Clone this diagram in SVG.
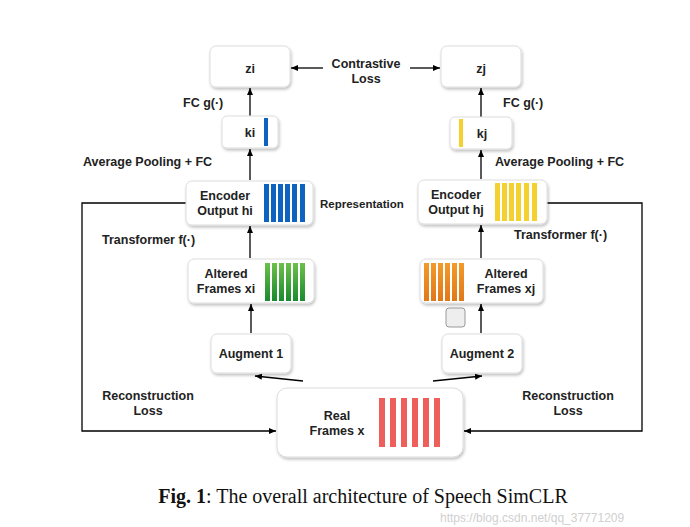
<svg xmlns="http://www.w3.org/2000/svg" width="690" height="527" viewBox="0 0 690 527">
<defs>
<filter id="sh" x="-10%" y="-10%" width="125%" height="135%"><feDropShadow dx="1" dy="2" stdDeviation="1.5" flood-color="#000" flood-opacity="0.25"/></filter>
<marker id="ar" markerWidth="8" markerHeight="8" refX="7" refY="4" orient="auto" markerUnits="userSpaceOnUse"><path d="M0,1 L7,4 L0,7 Z" fill="#000"/></marker>
<linearGradient id="gg" x1="0" y1="0" x2="0" y2="1"><stop offset="0" stop-color="#6cc04a"/><stop offset="1" stop-color="#1a8a2e"/></linearGradient>
<linearGradient id="og" x1="0" y1="0" x2="0" y2="1"><stop offset="0" stop-color="#f39a2a"/><stop offset="1" stop-color="#e0781a"/></linearGradient>
</defs>
<style>
.bx{fill:#fff;stroke:#ddd;stroke-width:1;filter:url(#sh)}
text{font-family:"Liberation Sans",Arial,sans-serif;font-size:12.5px;font-weight:bold;fill:#222}
.c{text-anchor:middle}
.ln{stroke:#000;stroke-width:1.3;fill:none}
.blue{fill:#0e63c0}.yel{fill:#f5d130}.red{fill:#ee5f5b}.grn{fill:url(#gg)}.org{fill:url(#og)}
</style>
<rect width="690" height="527" fill="#fff"/>
<g id="connectors">
<line class="ln" x1="250" y1="116" x2="250" y2="88" marker-end="url(#ar)"/>
<line class="ln" x1="481" y1="117" x2="481" y2="88" marker-end="url(#ar)"/>
<line class="ln" x1="250" y1="180" x2="250" y2="149" marker-end="url(#ar)"/>
<line class="ln" x1="481" y1="179" x2="481" y2="150" marker-end="url(#ar)"/>
<line class="ln" x1="250" y1="258" x2="250" y2="226" marker-end="url(#ar)"/>
<line class="ln" x1="481" y1="258" x2="481" y2="225" marker-end="url(#ar)"/>
<line class="ln" x1="251" y1="333" x2="251" y2="304" marker-end="url(#ar)"/>
<line class="ln" x1="481" y1="333" x2="481" y2="304" marker-end="url(#ar)"/>
<line class="ln" x1="303" y1="381" x2="255" y2="376" marker-end="url(#ar)"/>
<line class="ln" x1="433" y1="381" x2="482" y2="376" marker-end="url(#ar)"/>
<line class="ln" x1="323" y1="68" x2="291" y2="68" marker-end="url(#ar)"/>
<line class="ln" x1="410" y1="68" x2="440" y2="68" marker-end="url(#ar)"/>
<polyline class="ln" points="186,203 82,203 82,431 276,431" marker-end="url(#ar)"/>
<polyline class="ln" points="547,203 642,203 642,431 464,431" marker-end="url(#ar)"/>
</g>
<g id="zi"><rect class="bx" x="210" y="46" width="80" height="41" rx="6"/><text class="c" x="250" y="73">zi</text></g>
<g id="zj"><rect class="bx" x="441" y="46" width="80" height="41" rx="6"/><text class="c" x="481" y="73">zj</text></g>
<g id="ki"><rect class="bx" x="222" y="116" width="56" height="32" rx="5"/><text class="c" x="250" y="137">ki</text><rect class="blue" x="264" y="118" width="4" height="28"/></g>
<g id="kj"><rect class="bx" x="450" y="117" width="62" height="32" rx="5"/><text class="c" x="482" y="138">kj</text><rect class="yel" x="459" y="119" width="4" height="28"/></g>
<g id="hi"><rect class="bx" x="186" y="181" width="127" height="44" rx="6"/><text class="c" x="225" y="200">Encoder</text><text class="c" x="225" y="215">Output hi</text>
<g class="blue"><rect x="264" y="184" width="5" height="38"/><rect x="271" y="184" width="5" height="38"/><rect x="278" y="184" width="5" height="38"/><rect x="285" y="184" width="5" height="38"/><rect x="292" y="184" width="5" height="38"/><rect x="300" y="184" width="5" height="38"/></g></g>
<g id="hj"><rect class="bx" x="418" y="180" width="129" height="44" rx="6"/><text class="c" x="456" y="199">Encoder</text><text class="c" x="456" y="214">Output hj</text>
<g class="yel"><rect x="495" y="183" width="5" height="38"/><rect x="502" y="183" width="5" height="38"/><rect x="509" y="183" width="5" height="38"/><rect x="516" y="183" width="5" height="38"/><rect x="524" y="183" width="5" height="38"/><rect x="532" y="183" width="5" height="38"/></g></g>
<g id="xi"><rect class="bx" x="188" y="259" width="126" height="44" rx="6"/><text class="c" x="226" y="278">Altered</text><text class="c" x="226" y="293">Frames xi</text>
<g class="grn"><rect x="265" y="263" width="5" height="38"/><rect x="272" y="263" width="5" height="38"/><rect x="279" y="263" width="5" height="38"/><rect x="286" y="263" width="5" height="38"/><rect x="293" y="263" width="5" height="38"/><rect x="300" y="263" width="5" height="38"/></g></g>
<g id="xj"><rect class="bx" x="420" y="259" width="123" height="44" rx="6"/><text class="c" x="506" y="278">Altered</text><text class="c" x="506" y="293">Frames xj</text>
<g class="org"><rect x="424" y="263" width="5" height="38"/><rect x="431" y="263" width="5" height="38"/><rect x="438" y="263" width="5" height="38"/><rect x="445" y="263" width="5" height="38"/><rect x="452" y="263" width="5" height="38"/><rect x="459" y="263" width="5" height="38"/></g></g>
<rect x="446" y="308" width="19" height="19" rx="3" fill="#eee" stroke="#999"/>
<g id="aug1"><rect class="bx" x="211" y="334" width="80" height="39" rx="6"/><text class="c" x="251" y="358">Augment 1</text></g>
<g id="aug2"><rect class="bx" x="442" y="334" width="80" height="39" rx="6"/><text class="c" x="482" y="358">Augment 2</text></g>
<g id="real"><rect class="bx" x="277" y="388" width="186" height="69" rx="10"/><text class="c" x="337" y="420">Real</text><text class="c" x="337" y="435">Frames x</text>
<g class="red"><rect x="379" y="398" width="6" height="49"/><rect x="390" y="398" width="6" height="49"/><rect x="401" y="398" width="6" height="49"/><rect x="412" y="398" width="6" height="49"/><rect x="423" y="398" width="6" height="49"/><rect x="434" y="398" width="6" height="49"/></g></g>
<text class="c" x="366" y="68">Contrastive</text><text class="c" x="366" y="83">Loss</text>
<text x="183" y="107">FC g(·)</text><text x="503" y="107">FC g(·)</text>
<text x="83" y="166">Average Pooling + FC</text><text x="495" y="166">Average Pooling + FC</text>
<text x="102" y="244">Transformer f(·)</text><text x="514" y="239">Transformer f(·)</text>
<text x="320" y="208" style="font-size:11.5px">Representation</text>
<text class="c" x="148" y="400">Reconstruction</text><text class="c" x="148" y="415">Loss</text>
<text class="c" x="568" y="400">Reconstruction</text><text class="c" x="568" y="415">Loss</text>
<text class="c" x="363" y="503" style="font-family:'Liberation Serif',serif;font-size:20px;font-weight:normal;fill:#111"><tspan font-weight="bold">Fig. 1</tspan>: The overall architecture of Speech SimCLR</text>
<text x="440" y="522" style="font-size:12px;font-weight:normal;fill:#cfcfcf">https://blog.csdn.net/qq_37771209</text>
</svg>
